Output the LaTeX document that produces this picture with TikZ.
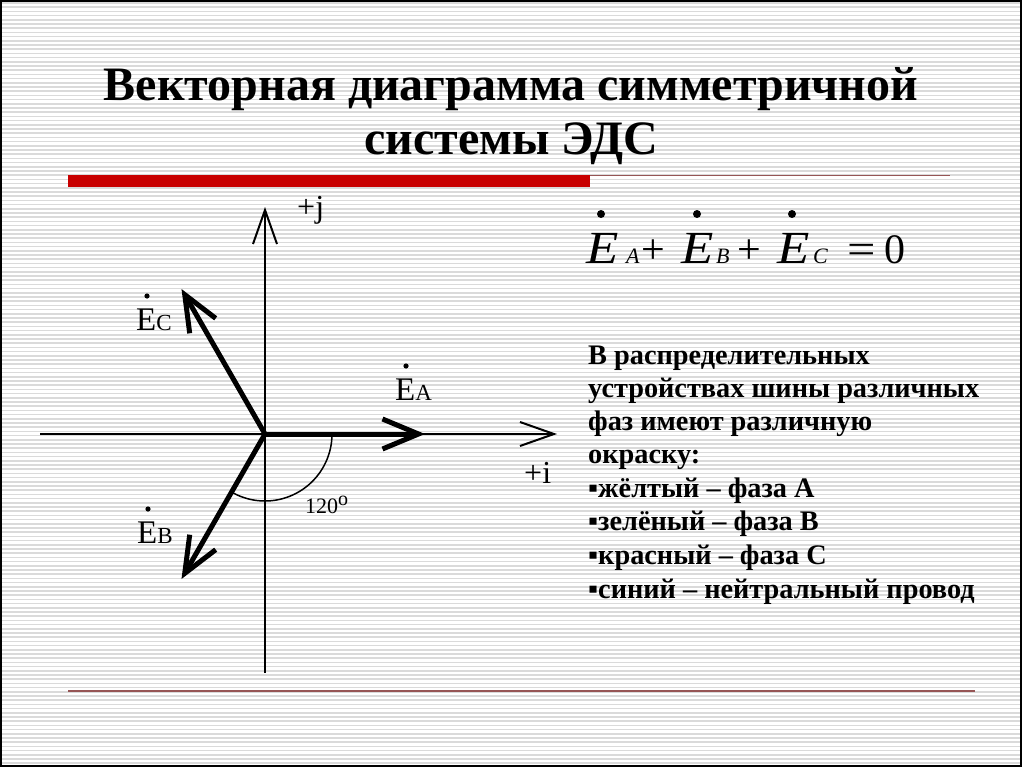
\documentclass[tikz,border=0pt]{standalone}
\usepackage{fontspec}
\setmainfont{Liberation Serif}
\usetikzlibrary{arrows.meta}
\definecolor{stripegray}{RGB}{218,218,218}
\definecolor{barred}{RGB}{200,0,0}
\definecolor{rulered}{RGB}{150,85,85}
\newcommand\vlab[1]{E{\fontsize{23}{23}\selectfont #1}}
\begin{document}
\begin{tikzpicture}[x=1pt,y=-1pt,
  stripe/.style={line width=1.6pt, draw=stripegray},
  axis/.style={line width=2pt, -{Straight Barb[length=34pt,width=24pt,line width=2pt]}},
  phasor/.style={line width=5pt, -{Straight Barb[length=36pt,width=30pt,line width=5pt]}},
  title/.style={inner sep=0pt, anchor=base, font=\bfseries\fontsize{48}{56}\selectfont},
  body/.style={inner sep=0pt, anchor=base west, font=\bfseries\fontsize{28.3}{33}\selectfont},
  vec/.style={inner sep=0pt, anchor=base west, font=\fontsize{33}{33}\selectfont},
  axlab/.style={inner sep=0pt, anchor=base west, font=\fontsize{32}{32}\selectfont},
  eqbig/.style={inner sep=0pt, anchor=base west, font=\itshape\fontsize{46}{46}\selectfont},
  eqsub/.style={inner sep=0pt, anchor=base west, font=\itshape\fontsize{22}{22}\selectfont},
  eqop/.style={inner sep=0pt, anchor=base west, font=\fontsize{42}{42}\selectfont},
]
\useasboundingbox (0,0) rectangle (1024,768);
\fill[white] (0,0) rectangle (1024,768);
% striped background
\foreach \i in {0,...,181} \draw[stripe] (2,{3+\i*4.2}) -- (1020,{3+\i*4.2});
\draw[line width=1.5pt] (1,1) rectangle (1021,766);

% title
\node[title] (t1) at (511,100) {Векторная диаграмма симметричной};
\node[title] (t2) at (511,154) {системы ЭДС};

% rules
\fill[barred] (68,175) rectangle (590,187);
\draw[rulered, line width=1.2pt] (590,175.5) -- (950,175.5);
\draw[rulered, line width=1.5pt] (68,691) -- (975,691);

% axes
\coordinate (O) at (265,434);
\coordinate (xl) at (40,434);
\coordinate (xr) at (557,434);
\coordinate (yb) at (265,673);
\coordinate (yt) at (265,207);
\draw[axis] (xl) -- (xr);
\draw[axis] (yb) -- (yt);
\node[axlab] (lj) at (297,217) {+j};
\node[axlab] (li) at (524,483) {+i};

% phasors
\coordinate (A) at (425,434);
\coordinate (B) at (181.5,579);
\coordinate (C) at (181.5,289);
\draw[phasor] (O) -- (A);
\draw[phasor] (O) -- (B);
\draw[phasor] (O) -- (C);
\node[vec] (la) at (395,400) {\vlab{A}};
\node[vec] (lb) at (137,543) {\vlab{B}};
\node[vec] (lc) at (136,330) {\vlab{C}};
\fill (406,366) circle (2.6);
\fill (148,509) circle (2.6);
\fill (147,296) circle (2.6);

% angle arc
\draw[line width=1.5pt] plot[domain=0:120, samples=60] ({265+67*cos(\x)},{434+67*sin(\x)});
\node[inner sep=0pt, anchor=base west, font=\fontsize{22}{22}\selectfont] (ang) at (305,513) {120\raisebox{8pt}{\fontsize{20}{20}\selectfont o}};

% equation
\node[eqbig] (eA) at (586,263) {\scalebox{1.15}[1]{E}};
\node[eqsub] (sA) at (626,263) {A};
\node[eqop]  (p1) at (641,263) {+};
\node[eqbig] (eB) at (681,263) {\scalebox{1.15}[1]{E}};
\node[eqsub] (sB) at (716,263) {B};
\node[eqop]  (p2) at (737,263) {+};
\node[eqbig] (eC) at (777,263) {\scalebox{1.15}[1]{E}};
\node[eqsub] (sC) at (813,263) {C};
\node[eqop]  (eq) at (847,263) {\scalebox{1.2}[1]{=}};
\node[eqop]  (z)  at (884,263) {0};
\fill (601,214) circle (4);
\fill (697,214) circle (4);
\fill (792,214) circle (4);

% body text
\node[body] (b1) at (588,364) {В распределительных};
\node[body] (b2) at (588,397) {устройствах шины различных};
\node[body] (b3) at (588,430) {фаз имеют различную};
\node[body] (b4) at (588,463) {окраску:};
\node[body] (b5) at (588,497) {▪жёлтый – фаза А};
\node[body] (b6) at (588,530) {▪зелёный – фаза В};
\node[body] (b7) at (588,564) {▪красный – фаза С};
\node[body] (b8) at (588,598) {▪синий – нейтральный провод};
\end{tikzpicture}
\end{document}
